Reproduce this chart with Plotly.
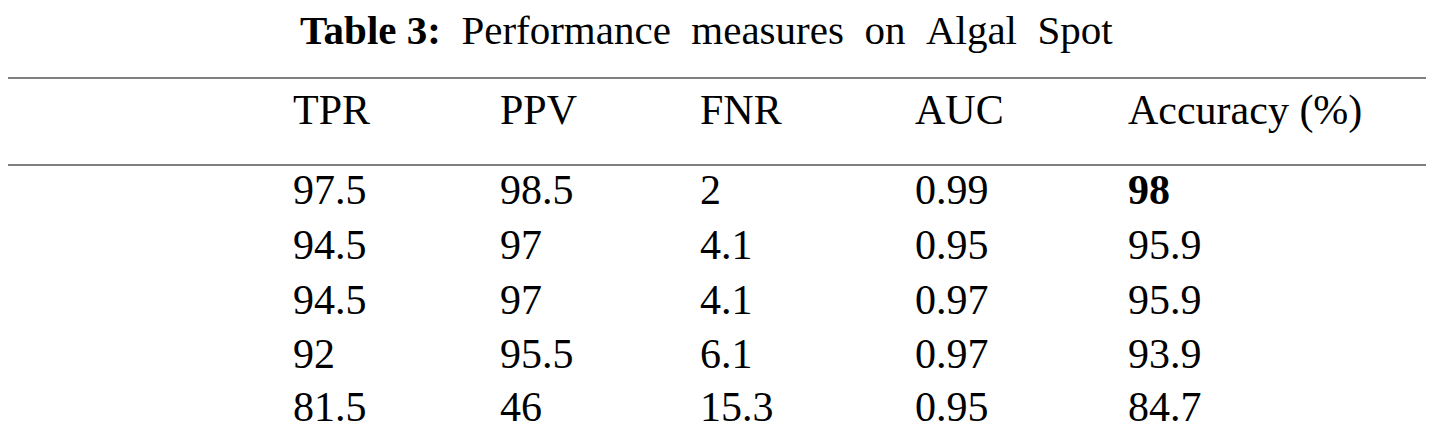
import plotly.graph_objects as go

title_bold = "Table 3:"
title_rest = "Performance measures on Algal Spot"
headers = ["Classifier", "TPR", "PPV", "FNR", "AUC", "Accuracy (%)"]
classifiers = ["C-SVM", "F-KNN", "BT", "W-KNN", "RBT"]
tpr = ["97.5", "94.5", "94.5", "92", "81.5"]
ppv = ["98.5", "97", "97", "95.5", "46"]
fnr = ["2", "4.1", "4.1", "6.1", "15.3"]
auc = ["0.99", "0.95", "0.97", "0.97", "0.95"]
acc = ["<b>98</b>", "95.9", "95.9", "93.9", "84.7"]

col_x = [-1, 285, 492, 692, 907, 1120]
header_y = 105
row_y = [185, 240, 295, 349, 402]
font = dict(family="Liberation Serif", size=42, color="black")

columns = [classifiers, tpr, ppv, fnr, auc, acc]
fig = go.Figure()
xs, ys, ts = [], [], []
for cx, h, col in zip(col_x, headers, columns):
    xs.append(cx); ys.append(header_y); ts.append(h)
    for ry, v in zip(row_y, col):
        xs.append(cx); ys.append(ry); ts.append(v)
fig.add_trace(go.Scatter(x=xs, y=ys, text=ts, mode="text",
                         textposition="middle right", textfont=font,
                         hoverinfo="skip", showlegend=False, cliponaxis=False))
title_txt = f"<b>{title_bold}</b>  " + "\u00a0\u00a0".join(title_rest.split(" "))
fig.add_annotation(x=698, y=22, xref="x", yref="y", showarrow=False,
                   text=title_txt,
                   font=dict(family="Liberation Serif", size=41, color="black"))
for yy in [70, 157, 433]:
    fig.add_shape(type="line", x0=0, x1=1434, y0=yy, y1=yy, xref="x", yref="y",
                  line=dict(color="#555", width=1.3))
fig.update_xaxes(range=[0, 1434], visible=False)
fig.update_yaxes(range=[437, 0], visible=False)
fig.update_layout(width=1434, height=437, margin=dict(l=0, r=0, t=0, b=0),
                  plot_bgcolor="white", paper_bgcolor="white")
fig.write_html("out.html")
